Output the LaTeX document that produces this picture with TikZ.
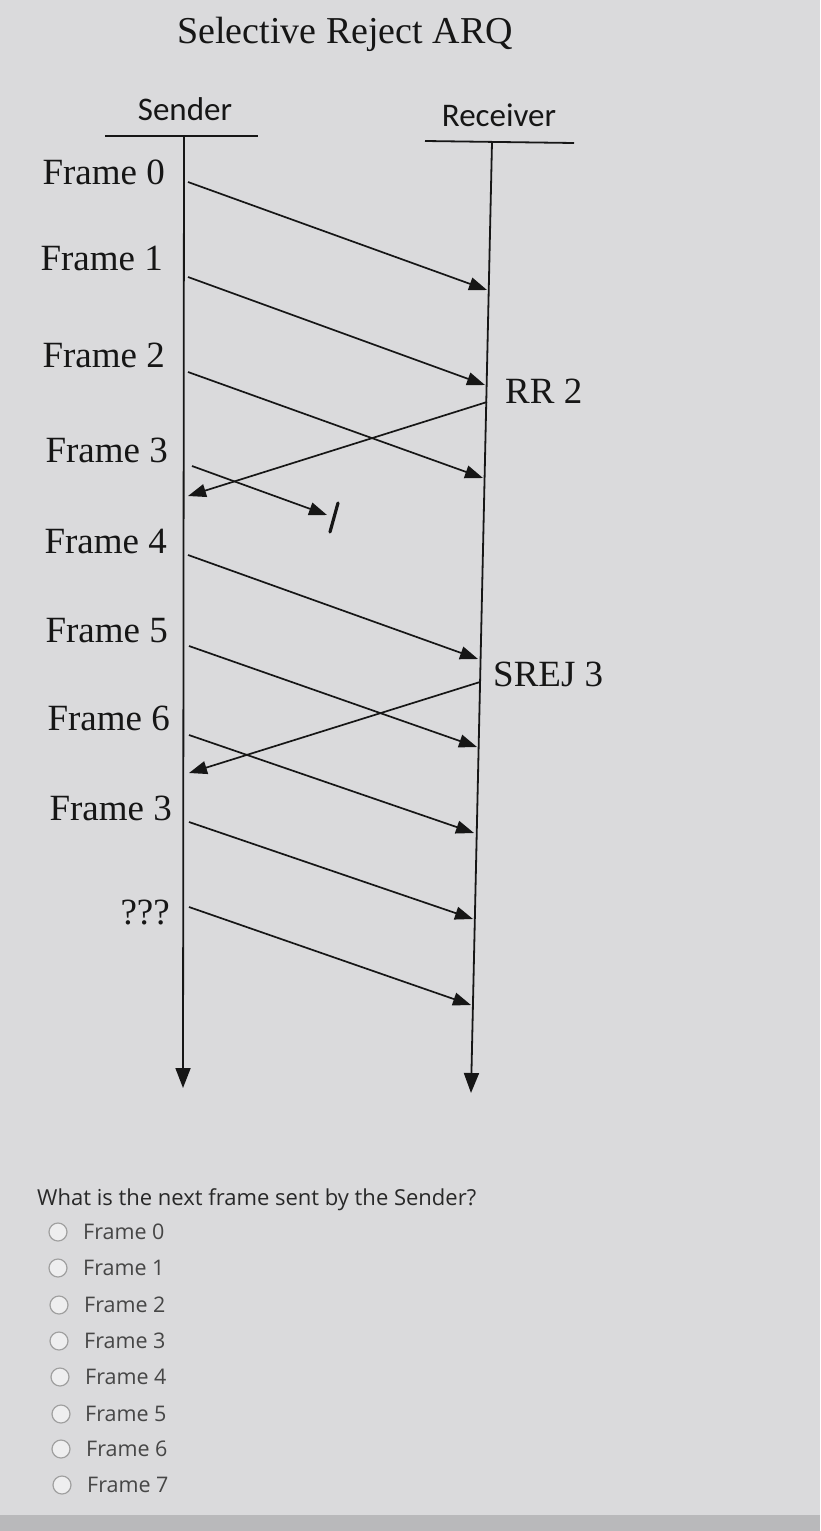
\documentclass[tikz,border=0pt]{standalone}
\usepackage{fontspec}
\setmainfont{Liberation Serif}
\newfontfamily\lblfont{Carlito}
\newfontfamily\qfont{Open Sans}
\usetikzlibrary{arrows.meta}
\definecolor{bg}{RGB}{218,218,220}
\definecolor{ink}{RGB}{22,22,22}
\definecolor{qink}{RGB}{40,40,40}
\definecolor{oink}{RGB}{70,70,70}
\definecolor{ring}{RGB}{160,160,160}
\begin{document}
\begin{tikzpicture}[x=1pt,y=-1pt,
  msg/.style={draw=ink,line width=1.7pt,-{Triangle[length=18pt,width=13pt]}},
  timeline/.style={draw=ink,line width=1.8pt,-{Triangle[length=20pt,width=15pt]}},
  rule/.style={draw=ink,line width=1.8pt},
  flabel/.style={anchor=base east,inner sep=0pt,text=ink,font=\fontsize{37}{40}\selectfont},
  rlabel/.style={anchor=base west,inner sep=0pt,text=ink,font=\fontsize{37}{40}\selectfont},
  party/.style={anchor=base,inner sep=0pt,text=ink,font=\lblfont\fontsize{33}{36}\selectfont},
  radio/.style={circle,draw=ring,line width=1.2pt,fill=white!55!bg,minimum size=18pt,inner sep=0pt},
  opt/.style={anchor=base west,inner sep=0pt,text=oink,font=\qfont\fontsize{21.5}{24}\selectfont}
]
\useasboundingbox (0,0) rectangle (820,1531);
\fill[bg] (0,0) rectangle (820,1531);
\fill[bg!85!black] (0,1515) rectangle (820,1531);

% title and party labels
\node[anchor=base,inner sep=0pt,text=ink,font=\fontsize{38}{42}\selectfont] (title) at (345,43) {Selective Reject ARQ};
\node[party] (sender) at (185,120) {Sender};
\node[party] (receiver) at (499,126) {Receiver};
\coordinate (sul) at (105,136); \coordinate (sur) at (258,136);
\coordinate (rul) at (425,141); \coordinate (rur) at (574,143);
\draw[rule] (sul) -- (sur);
\draw[rule] (rul) -- (rur);

% timelines
\coordinate (stop) at (184,136); \coordinate (sbot) at (183,1088);
\coordinate (rtop) at (492,142); \coordinate (rbot) at (471,1093);
\draw[timeline] (stop) -- (sbot);
\draw[timeline] (rtop) -- (rbot);

% frame labels
\node[flabel] (l0) at (165,184) {Frame 0};
\node[flabel] (l1) at (163,270) {Frame 1};
\node[flabel] (l2) at (165,367) {Frame 2};
\node[flabel] (l3) at (168,462) {Frame 3};
\node[flabel] (l4) at (167,553) {Frame 4};
\node[flabel] (l5) at (168,642) {Frame 5};
\node[flabel] (l6) at (170,730) {Frame 6};
\node[flabel] (l7) at (172,820) {Frame 3};
\node[flabel] (l8) at (170,924) {???};
\node[rlabel] (rr) at (505,403) {RR 2};
\node[rlabel] (srej) at (493,686) {SREJ 3};

% message endpoints
\coordinate (a0) at (188,182); \coordinate (b0) at (487,290);
\coordinate (a1) at (188,277); \coordinate (b1) at (485,385);
\coordinate (a2) at (188,372); \coordinate (b2) at (483,478);
\coordinate (a3) at (192,466); \coordinate (b3) at (327,515);
\coordinate (a4) at (188,555); \coordinate (b4) at (478,659);
\coordinate (a5) at (189,646); \coordinate (b5) at (477,747);
\coordinate (a6) at (189,735); \coordinate (b6) at (474,833);
\coordinate (a7) at (189,822); \coordinate (b7) at (473,919);
\coordinate (a8) at (189,907); \coordinate (b8) at (471,1005);
\coordinate (rra) at (487,402); \coordinate (rrb) at (188,496);
\coordinate (sja) at (480,682); \coordinate (sjb) at (189,773);
\coordinate (lost1) at (338,503); \coordinate (lost2) at (330,532);

\draw[msg] (a0) -- (b0);
\draw[msg] (a1) -- (b1);
\draw[msg] (a2) -- (b2);
\draw[msg] (a3) -- (b3);
\draw[ink,line width=3.2pt,line cap=round] (lost1) -- (lost2);
\draw[msg] (rra) -- (rrb);
\draw[msg] (a4) -- (b4);
\draw[msg] (a5) -- (b5);
\draw[msg] (sja) -- (sjb);
\draw[msg] (a6) -- (b6);
\draw[msg] (a7) -- (b7);
\draw[msg] (a8) -- (b8);

% question
\node[anchor=base west,inner sep=0pt,text=qink,font=\qfont\fontsize{22}{25}\selectfont] (q) at (37,1205) {What is the next frame sent by the Sender?};
\node[radio] (c0) at (58,1232) {}; \node[opt] (o0) at (83,1239) {Frame 0};
\node[radio] (c1) at (58,1268) {}; \node[opt] (o1) at (83,1275) {Frame 1};
\node[radio] (c2) at (59,1305) {}; \node[opt] (o2) at (84,1312) {Frame 2};
\node[radio] (c3) at (59,1341) {}; \node[opt] (o3) at (84,1348) {Frame 3};
\node[radio] (c4) at (60,1377) {}; \node[opt] (o4) at (85,1384) {Frame 4};
\node[radio] (c5) at (61,1414) {}; \node[opt] (o5) at (85,1421) {Frame 5};
\node[radio] (c6) at (61,1449) {}; \node[opt] (o6) at (86,1456) {Frame 6};
\node[radio] (c7) at (62,1485) {}; \node[opt] (o7) at (87,1492) {Frame 7};
\end{tikzpicture}
\end{document}
